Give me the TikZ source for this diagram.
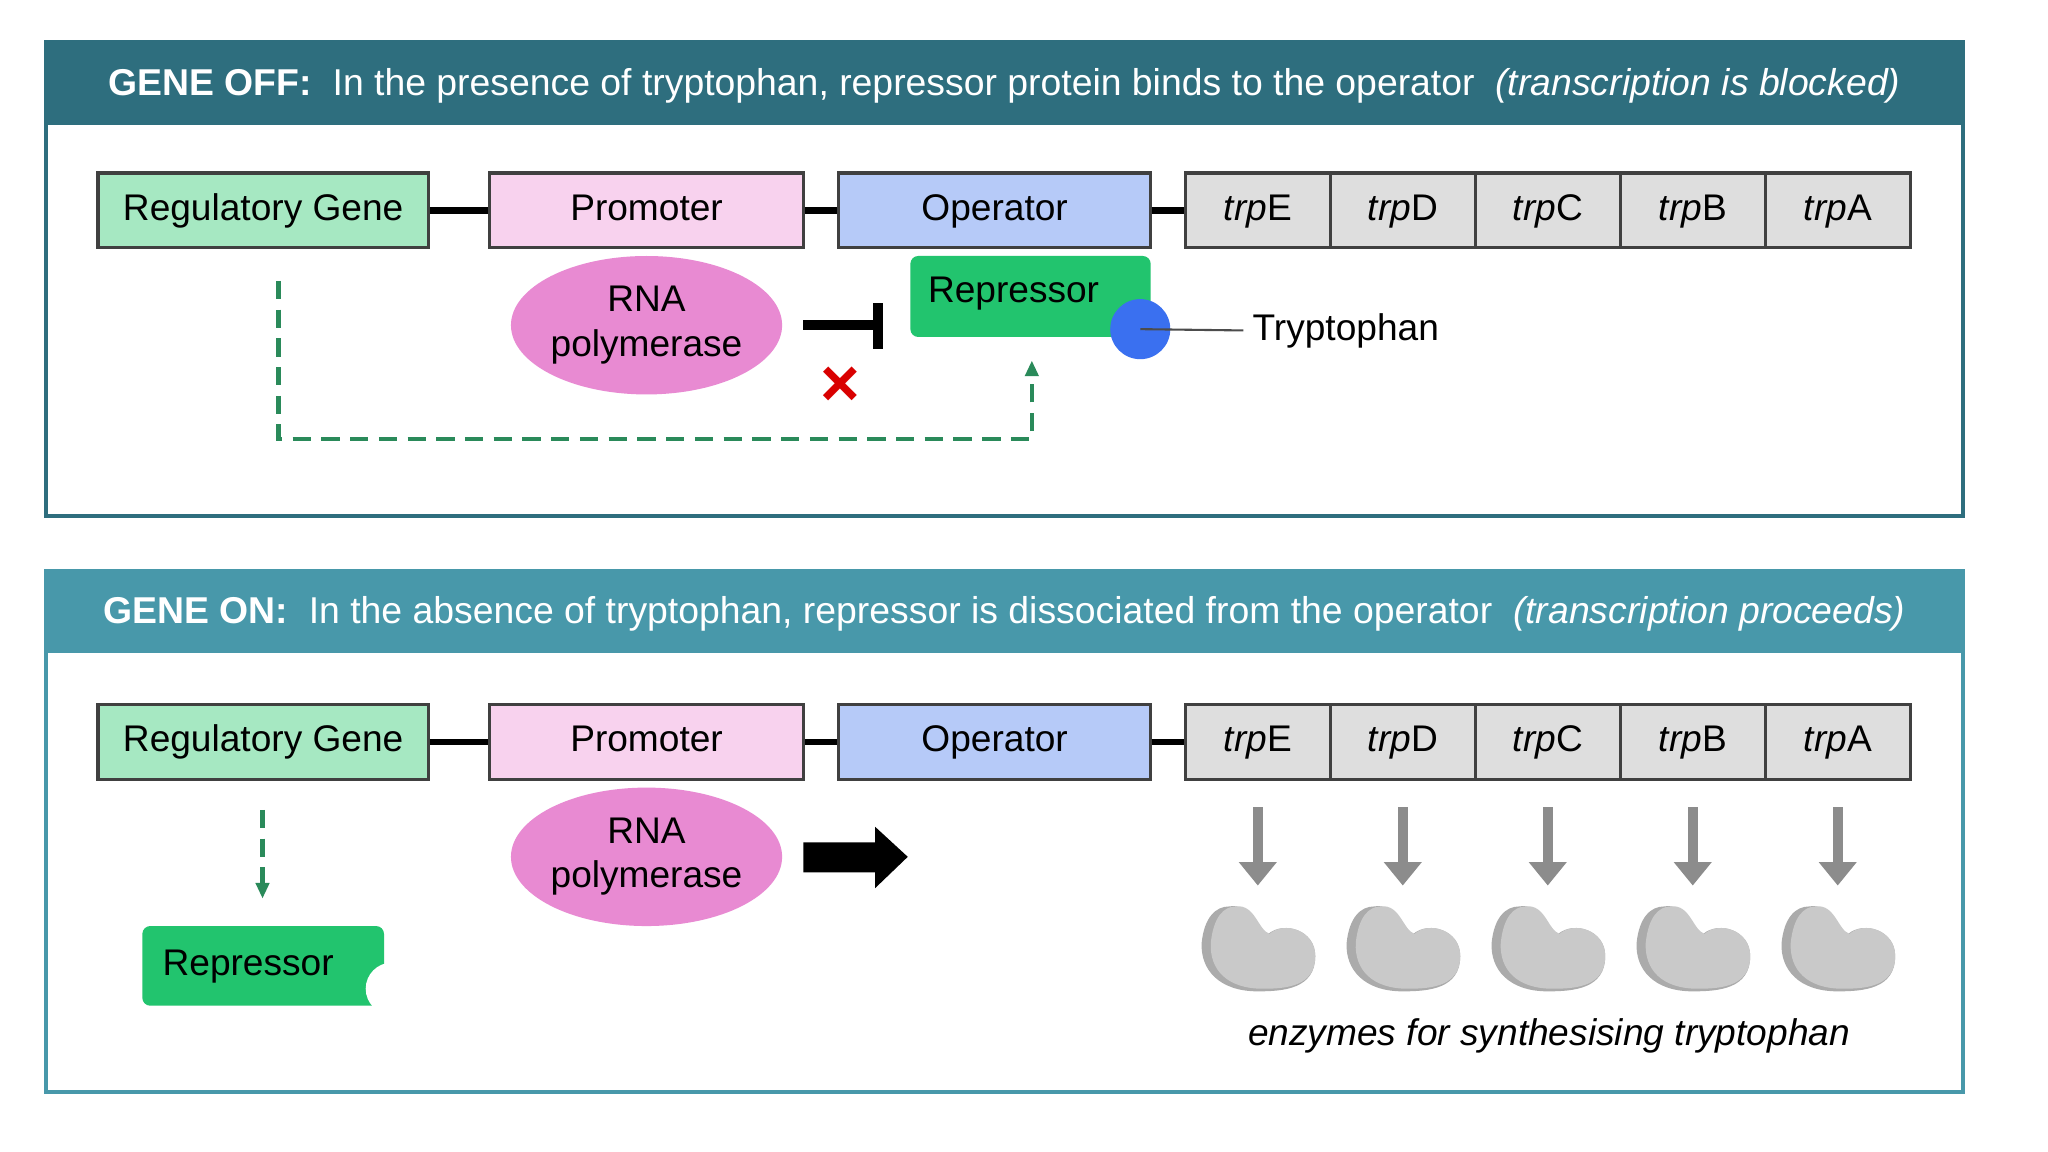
\documentclass[tikz,border=0pt]{standalone}
\usepackage{fontspec}
\setmainfont{Liberation Sans}
\usetikzlibrary{arrows.meta,shapes.geometric}
\definecolor{hdrA}{HTML}{2E6E7E}
\definecolor{hdrB}{HTML}{4898AA}
\definecolor{regc}{HTML}{A6E8C2}
\definecolor{proc}{HTML}{F8D2EE}
\definecolor{opc}{HTML}{B6CAF8}
\definecolor{trpc}{HTML}{DEDEDE}
\definecolor{polc}{HTML}{E88AD2}
\definecolor{repc}{HTML}{22C46E}
\definecolor{trc}{HTML}{3A70F0}
\definecolor{dashc}{HTML}{2A8A5A}
\begin{document}
\begin{tikzpicture}[x=0.5pt,y=-0.5pt,
  box/.style={draw=black!75,line width=1.2pt,minimum height=28.5pt,inner sep=0pt,text height=9.5pt,text depth=2pt,font=\fontsize{14.2}{16}\selectfont},
  gene/.style={box,fill=trpc,minimum width=55.5pt},
  link/.style={line width=2.5pt,black},
  pol/.style={ellipse,fill=polc,minimum width=100pt,minimum height=53pt,align=center,inner sep=0pt,font=\fontsize{14.2}{17}\selectfont},
  hdr/.style={text=white,font=\fontsize{14.3}{16}\selectfont},
  dashline/.style={dashc,line width=1.8pt,dash pattern=on 7pt off 4pt},
  lbl/.style={font=\fontsize{14.2}{16}\selectfont},
]
\useasboundingbox (0,0) rectangle (1568,882);
\fill[white] (0,0) rectangle (1568,882);
% panel frames
\draw[hdrA,line width=1.5pt] (35,32) rectangle (1503,395);
\fill[hdrA] (35,32) rectangle (1503,96);
\draw[hdrB,line width=1.5pt] (35,437) rectangle (1503,836);
\fill[hdrB] (35,437) rectangle (1503,500);
\node (h1) [hdr] at (769,66) {\textbf{GENE OFF:}\ \ In the presence of tryptophan, repressor protein binds to the operator\ \ \textit{(transcription is blocked)}};
\node (h2) [hdr] at (769,470) {\textbf{GENE ON:}\ \ In the absence of tryptophan, repressor is dissociated from the operator\ \ \textit{(transcription proceeds)}};
% rows
\foreach \r/\y in {a/161,b/568}{
  \node (reg\r) [box,fill=regc,minimum width=126.5pt] at (201.5,\y) {Regulatory Gene};
  \node (pro\r) [box,fill=proc,minimum width=120pt] at (495,\y) {Promoter};
  \node (op\r) [box,fill=opc,minimum width=119.5pt] at (761.5,\y) {Operator};
  \node (E\r) [gene] at (963,\y) {\textit{trp}E};
  \node (D\r) [gene] at (1074,\y) {\textit{trp}D};
  \node (C\r) [gene] at (1185,\y) {\textit{trp}C};
  \node (B\r) [gene] at (1296,\y) {\textit{trp}B};
  \node (A\r) [gene] at (1407,\y) {\textit{trp}A};
  \draw[link] (reg\r) -- (pro\r);
  \draw[link] (pro\r) -- (op\r);
  \draw[link] (op\r) -- (E\r);
}
% top panel
\node (pola) [pol] at (495,249) {RNA\\polymerase};
\coordinate (ba) at (615,249);
\coordinate (bb) at (672,249);
\draw[line width=4pt] (ba) -- (bb);
\draw[line width=4pt] (672,232) -- (672,267);
\node (x) [text=red!85!black,font=\fontsize{26}{26}\selectfont\bfseries] at (643,296) {\texttimes};
\fill[repc,rounded corners=3pt] (697,196) rectangle (881,258);
\node (rep) [lbl] at (776,225) {Repressor};
\node (trp) [circle,fill=trc,minimum size=23pt,inner sep=0pt] at (873,252) {};
\node (tl) [anchor=west,lbl] at (952,253) {Tryptophan};
\draw[line width=0.8pt,black!70] (trp.center) -- (tl.west);
\coordinate (d0) at (213,215);
\coordinate (d1) at (790,276);
\draw[dashline,-{Triangle[length=6pt,width=5pt]}] (d0) -- (213,336) -- (790,336) -- (d1);
% bottom panel
\node (polb) [pol] at (495,656) {RNA\\polymerase};
\fill (615,645) -- (670,645) -- (670,633) -- (695,656) -- (670,680) -- (670,668) -- (615,668) -- cycle;
\coordinate (e0) at (201,620);
\coordinate (e1) at (201,688);
\draw[dashline,-{Triangle[length=6pt,width=5pt]}] (e0) -- (e1);
\fill[repc,rounded corners=3pt] (109,709) rectangle (294,770);
\fill[white] (300,757) circle (20);
\node (repb) [lbl] at (190,740) {Repressor};
\foreach \g/\x in {E/963,D/1074,C/1185,B/1296,A/1407}{
  \coordinate (t\g) at (\x,618);
  \coordinate (u\g) at (\x,678);
  \draw[black!45,line width=4pt,-{Triangle[length=9pt,width=14pt]}] (t\g) -- (u\g);
  \begin{scope}[shift={(\x,727)}]
    \fill[black!33] (-22,-33) .. controls (-6,-36) and (-2,-15) .. (8,-12) .. controls (20,-22) and (44,-15) .. (44,5) .. controls (44,30) and (20,32) .. (0,32) .. controls (-30,32) and (-44,15) .. (-43,-5) .. controls (-41,-25) and (-32,-33) .. (-22,-33) -- cycle;
    \fill[black!21] (-17,-33) .. controls (-2,-35) and (0,-15) .. (9,-12) .. controls (20,-22) and (44,-15) .. (44,5) .. controls (44,28) and (22,30) .. (4,30) .. controls (-24,30) and (-37,15) .. (-36,-5) .. controls (-34,-25) and (-26,-33) .. (-17,-33) -- cycle;
  \end{scope}
}
\node (enz) [font=\fontsize{14.2}{16}\selectfont\itshape] at (1186,793) {enzymes for synthesising tryptophan};
\end{tikzpicture}
\end{document}
